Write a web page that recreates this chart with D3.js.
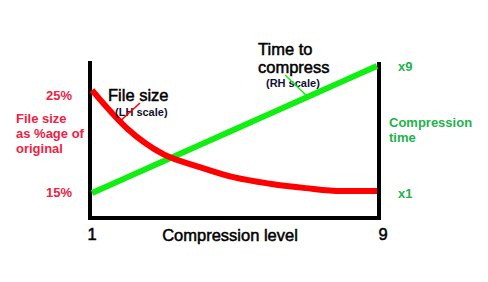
<!DOCTYPE html>
<html>
<head>
<meta charset="utf-8">
<script src="https://cdn.jsdelivr.net/npm/d3@7.9.0/dist/d3.min.js"></script>
<style>
  body { margin: 0; background: #fff; }
  svg { display: block; font-family: "Liberation Sans", Arial, sans-serif; }
  .ink { stroke: #000; stroke-width: 0.5px; }
</style>
</head>
<body>
<svg width="488" height="282"></svg>
<script>
// compression levels along the bottom
const levels = [1, 2, 3, 4, 5, 6, 7, 8, 9];
// file size as % of original (left scale)
const fileSize = [25.5, 21.5, 18.9, 17.6, 16.5, 15.85, 15.4, 15.1, 15.1];
// time to compress, multiple of level 1 (right scale)
const compressTime = [1, 2, 3, 4, 5, 6, 7, 8, 9];
const leftTicks = [15, 25];
const rightTicks = [1, 9];
const levelTicks = [1, 9];

const svg = d3.select('svg');
const red = '#ff0000', green = '#11ee11';
const redText = '#ee2244', greenText = '#22b24c';

let x = d3.scaleLinear().domain([1, 9]).range([92, 377]);
let yLeft = d3.scaleLinear().domain([15, 25]).range([192, 95]);
let yRight = d3.scaleLinear().domain([1, 9]).range([193, 66]);

// frame: left axis, right axis, bottom
svg.append('path')
  .attr('d', `M90,61 V220 M88,218 H381 M379,62 V220`)
  .attr('stroke', '#000').attr('stroke-width', 4).attr('fill', 'none');

// data lines
let sizeLine = d3.line()
  .x((d, i) => x(levels[i]))
  .y((d) => yLeft(d))
  .curve(d3.curveMonotoneX);
let timeLine = d3.line()
  .x((d, i) => x(levels[i]))
  .y((d) => yRight(d));

svg.append('path').attr('d', timeLine(compressTime))
  .attr('stroke', green).attr('stroke-width', 6).attr('fill', 'none');
svg.append('path').attr('d', sizeLine(fileSize))
  .attr('stroke', red).attr('stroke-width', 6).attr('fill', 'none');

// left tick labels
svg.selectAll('.lt').data(leftTicks).join('text')
  .attr('x', 72).attr('y', (d) => yLeft(d)).attr('dy', '0.36em')
  .attr('text-anchor', 'end').attr('fill', redText)
  .attr('font-size', 13).attr('font-weight', 'bold')
  .text((d) => d + '%');

// right tick labels
svg.selectAll('.rt').data(rightTicks).join('text')
  .attr('x', 398).attr('y', (d) => yRight(d)).attr('dy', '0.36em')
  .attr('fill', greenText)
  .attr('font-size', 13).attr('font-weight', 'bold')
  .text((d) => 'x' + d);

// bottom tick labels
svg.selectAll('.bt').data(levelTicks).join('text')
  .attr('class', 'ink')
  .attr('x', (d, i) => x(d) + (i === 0 ? 0 : 6)).attr('y', 240)
  .attr('text-anchor', 'middle').attr('fill', '#000')
  .attr('font-size', 16.5)
  .text((d) => d);

function lines(arr, x0, y0, lh, attrs) {
  let t = svg.append('text').attr('x', x0).attr('y', y0);
  Object.entries(attrs).forEach(([k, v]) => t.attr(k, v));
  arr.forEach((s, i) => {
    t.append('tspan').attr('x', x0).attr('dy', i === 0 ? 0 : lh).text(s);
  });
}

// axis titles
lines(['File size', 'as %age of', 'original'], 16, 123, 15,
  { fill: redText, 'font-size': 13, 'font-weight': 'bold' });
lines(['Compression', 'time'], 389, 127, 15,
  { fill: greenText, 'font-size': 13, 'font-weight': 'bold' });
svg.append('text').attr('class', 'ink').attr('x', 230).attr('y', 241)
  .attr('text-anchor', 'middle').attr('font-size', 16.5).text('Compression level');

// series annotations
svg.append('text').attr('class', 'ink').attr('x', 108).attr('y', 101)
  .attr('font-size', 16.5).text('File size');
svg.append('text').attr('x', 115).attr('y', 116).attr('font-size', 11)
  .attr('font-weight', 'bold').attr('fill', '#111133').text('(LH scale)');
svg.append('line').attr('x1', 118).attr('y1', 123).attr('x2', 140).attr('y2', 103)
  .attr('stroke', red).attr('stroke-width', 1.5);

lines(['Time to', 'compress'], 258, 55, 18, { 'font-size': 16.5, fill: '#000', class: 'ink' });
svg.append('text').attr('x', 266).attr('y', 87).attr('font-size', 11)
  .attr('font-weight', 'bold').attr('fill', '#111133').text('(RH scale)');
svg.append('line').attr('x1', 285).attr('y1', 75).attr('x2', 308).attr('y2', 97)
  .attr('stroke', green).attr('stroke-width', 1.5);
</script>
</body>
</html>
